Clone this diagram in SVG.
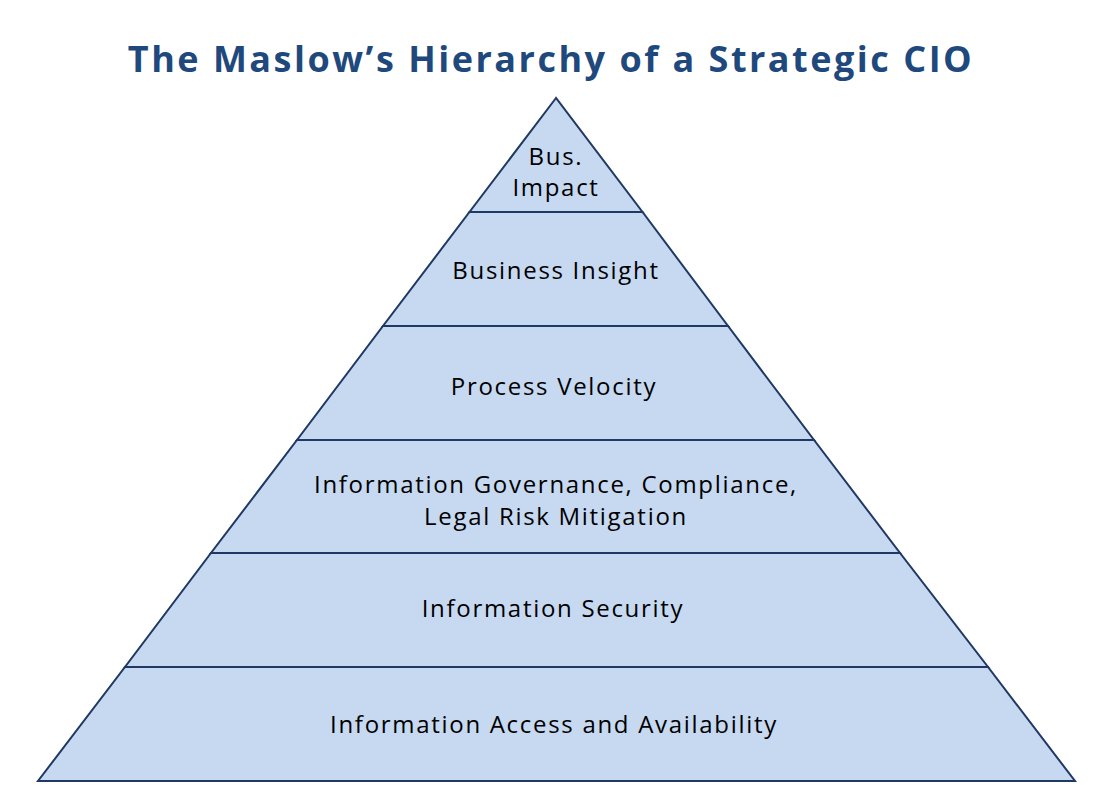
<svg xmlns="http://www.w3.org/2000/svg" width="1114" height="800" viewBox="0 0 1114 800">
<style>
.band{fill:#c6d9f1;stroke:#1f3864;stroke-width:2;stroke-linejoin:miter}
.t{font-family:"Open Sans","Liberation Sans",sans-serif;font-size:24px;letter-spacing:1.7px;fill:#000;text-anchor:middle}
.title{font-family:"Open Sans","Liberation Sans",sans-serif;font-size:36px;font-weight:bold;letter-spacing:2.5px;fill:#1f497d;text-anchor:middle}
</style>
<rect width="1114" height="800" fill="#fff"/>
<text class="title" x="551" y="72">The Maslow’s Hierarchy of a Strategic CIO</text>
<g id="n1"><polygon class="band" points="556,98 469.5,212 642.5,212"/><text class="t" x="556" y="165">Bus.</text><text class="t" x="556" y="196">Impact</text></g>
<g id="n2"><polygon class="band" points="469.5,212 642.5,212 728,326 383,326"/><text class="t" x="556" y="279">Business Insight</text></g>
<g id="n3"><polygon class="band" points="383,326 728,326 814,440 297,440"/><text class="t" x="554" y="395">Process Velocity</text></g>
<g id="n4"><polygon class="band" points="297,440 814,440 900,553 211,553"/><text class="t" x="556" y="493">Information Governance, Compliance,</text><text class="t" x="556" y="525">Legal Risk Mitigation</text></g>
<g id="n5"><polygon class="band" points="211,553 900,553 988,667 125,667"/><text class="t" x="553" y="617">Information Security</text></g>
<g id="n6"><polygon class="band" points="125,667 988,667 1075,781 38,781"/><text class="t" x="554" y="733">Information Access and Availability</text></g>
<g id="connectors"/>
</svg>
